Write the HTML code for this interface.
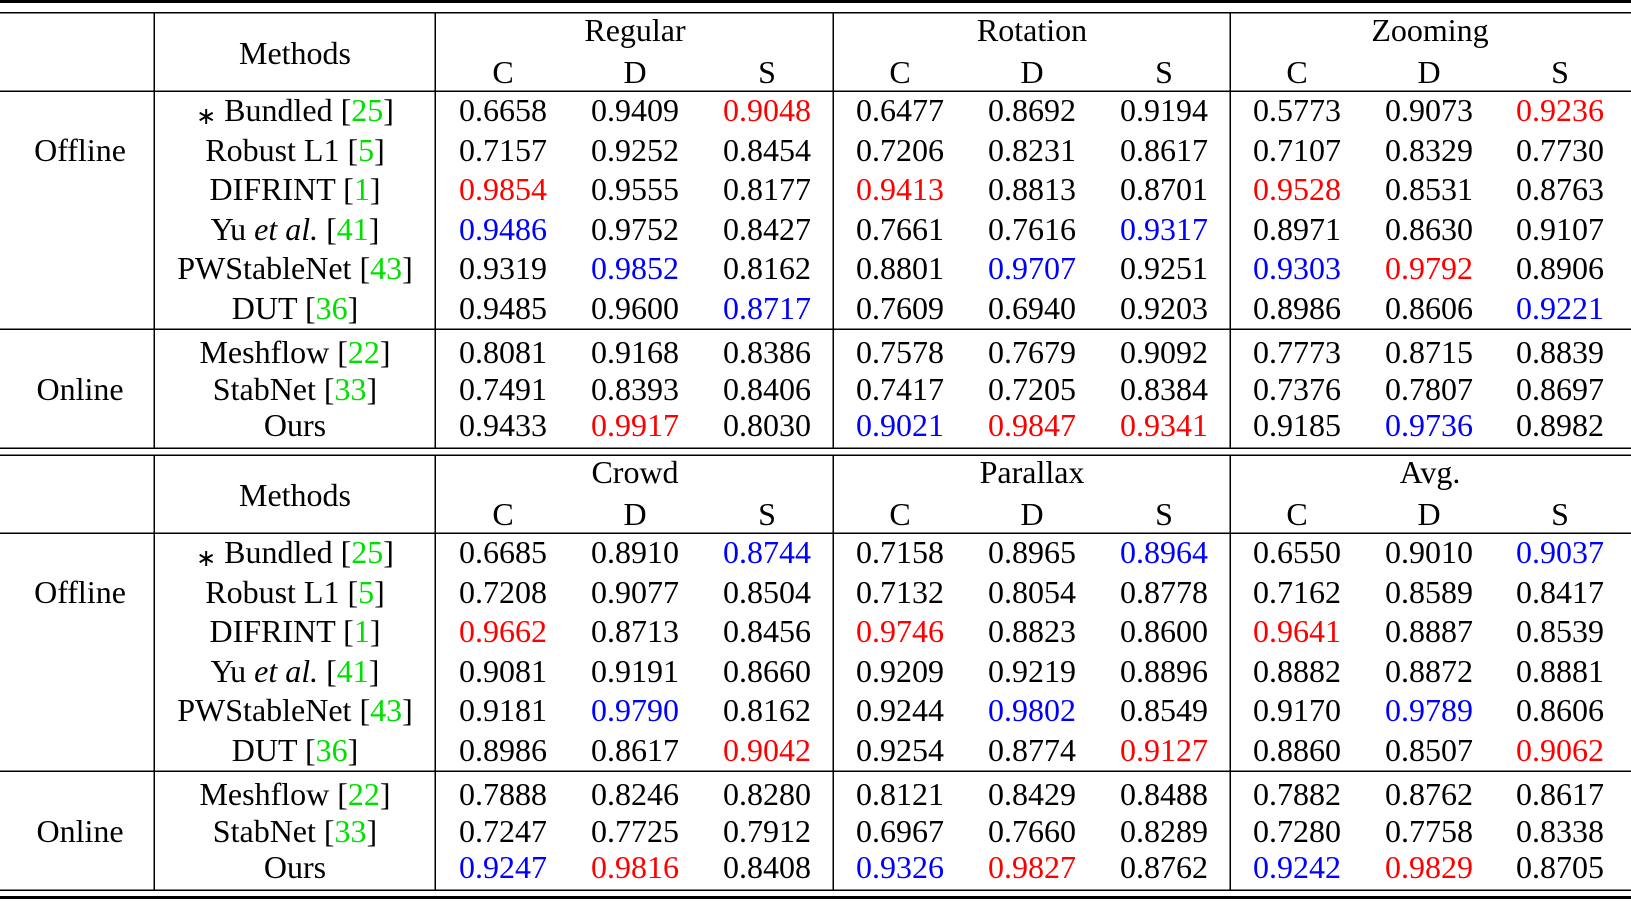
<!DOCTYPE html>
<html><head><meta charset="utf-8"><style>
html,body{margin:0;padding:0;background:#fff;}
svg{display:block;}
text{font-family:"Liberation Serif",serif;font-size:32px;fill:#000;text-anchor:middle;}
.g{fill:#00e000;} .r{fill:#f00;} .b{fill:#00f;}
.a{font-size:24px;font-family:"DejaVu Sans",sans-serif;}
</style></head><body>
<svg width="1631" height="901" viewBox="0 0 1631 901" xmlns="http://www.w3.org/2000/svg">
<rect x="0" y="0" width="1631" height="3" fill="#000"/>
<rect x="0" y="12" width="1631" height="1.5" fill="#000"/>
<rect x="0" y="90.5" width="1631" height="1.5" fill="#000"/>
<rect x="0" y="328.5" width="1631" height="1.5" fill="#000"/>
<rect x="0" y="447.5" width="1631" height="1.5" fill="#000"/>
<rect x="0" y="454.5" width="1631" height="1.5" fill="#000"/>
<rect x="0" y="532.5" width="1631" height="1.5" fill="#000"/>
<rect x="0" y="770.5" width="1631" height="1.5" fill="#000"/>
<rect x="0" y="889.5" width="1631" height="1.5" fill="#000"/>
<rect x="0" y="896" width="1631" height="3" fill="#000"/>
<g fill="#000">
<rect x="153.5" y="12" width="1.5" height="436"/><rect x="434.5" y="12" width="1.5" height="436"/>
<rect x="832.5" y="12" width="1.5" height="436"/><rect x="1229.5" y="12" width="1.5" height="436"/>
<rect x="153.5" y="455" width="1.5" height="435"/><rect x="434.5" y="455" width="1.5" height="435"/>
<rect x="832.5" y="455" width="1.5" height="435"/><rect x="1229.5" y="455" width="1.5" height="435"/>
</g>

<!-- Half A -->
<text x="295" y="64">Methods</text>
<text x="635" y="41">Regular</text><text x="1032" y="41">Rotation</text><text x="1430" y="41">Zooming</text>
<text x="503" y="83">C</text><text x="635" y="83">D</text><text x="767" y="83">S</text>
<text x="900" y="83">C</text><text x="1032" y="83">D</text><text x="1164" y="83">S</text>
<text x="1297" y="83">C</text><text x="1429" y="83">D</text><text x="1560" y="83">S</text>
<text x="80" y="161">Offline</text><text x="80" y="400">Online</text>

<text x="295" y="121"><tspan class="a" dy="3">∗</tspan><tspan dy="-3"> Bundled [</tspan><tspan class="g">25</tspan>]</text>
<text x="295" y="161">Robust L1 [<tspan class="g">5</tspan>]</text>
<text x="295" y="200">DIFRINT [<tspan class="g">1</tspan>]</text>
<text x="295" y="240">Yu <tspan font-style="italic">et al.</tspan> [<tspan class="g">41</tspan>]</text>
<text x="295" y="279">PWStableNet [<tspan class="g">43</tspan>]</text>
<text x="295" y="319">DUT [<tspan class="g">36</tspan>]</text>
<text x="295" y="363">Meshflow [<tspan class="g">22</tspan>]</text>
<text x="295" y="400">StabNet [<tspan class="g">33</tspan>]</text>
<text x="295" y="436">Ours</text>

<text x="503" y="121">0.6658</text><text x="635" y="121">0.9409</text><text x="767" y="121" class="r">0.9048</text><text x="900" y="121">0.6477</text><text x="1032" y="121">0.8692</text><text x="1164" y="121">0.9194</text><text x="1297" y="121">0.5773</text><text x="1429" y="121">0.9073</text><text x="1560" y="121" class="r">0.9236</text>
<text x="503" y="161">0.7157</text><text x="635" y="161">0.9252</text><text x="767" y="161">0.8454</text><text x="900" y="161">0.7206</text><text x="1032" y="161">0.8231</text><text x="1164" y="161">0.8617</text><text x="1297" y="161">0.7107</text><text x="1429" y="161">0.8329</text><text x="1560" y="161">0.7730</text>
<text x="503" y="200" class="r">0.9854</text><text x="635" y="200">0.9555</text><text x="767" y="200">0.8177</text><text x="900" y="200" class="r">0.9413</text><text x="1032" y="200">0.8813</text><text x="1164" y="200">0.8701</text><text x="1297" y="200" class="r">0.9528</text><text x="1429" y="200">0.8531</text><text x="1560" y="200">0.8763</text>
<text x="503" y="240" class="b">0.9486</text><text x="635" y="240">0.9752</text><text x="767" y="240">0.8427</text><text x="900" y="240">0.7661</text><text x="1032" y="240">0.7616</text><text x="1164" y="240" class="b">0.9317</text><text x="1297" y="240">0.8971</text><text x="1429" y="240">0.8630</text><text x="1560" y="240">0.9107</text>
<text x="503" y="279">0.9319</text><text x="635" y="279" class="b">0.9852</text><text x="767" y="279">0.8162</text><text x="900" y="279">0.8801</text><text x="1032" y="279" class="b">0.9707</text><text x="1164" y="279">0.9251</text><text x="1297" y="279" class="b">0.9303</text><text x="1429" y="279" class="r">0.9792</text><text x="1560" y="279">0.8906</text>
<text x="503" y="319">0.9485</text><text x="635" y="319">0.9600</text><text x="767" y="319" class="b">0.8717</text><text x="900" y="319">0.7609</text><text x="1032" y="319">0.6940</text><text x="1164" y="319">0.9203</text><text x="1297" y="319">0.8986</text><text x="1429" y="319">0.8606</text><text x="1560" y="319" class="b">0.9221</text>
<text x="503" y="363">0.8081</text><text x="635" y="363">0.9168</text><text x="767" y="363">0.8386</text><text x="900" y="363">0.7578</text><text x="1032" y="363">0.7679</text><text x="1164" y="363">0.9092</text><text x="1297" y="363">0.7773</text><text x="1429" y="363">0.8715</text><text x="1560" y="363">0.8839</text>
<text x="503" y="400">0.7491</text><text x="635" y="400">0.8393</text><text x="767" y="400">0.8406</text><text x="900" y="400">0.7417</text><text x="1032" y="400">0.7205</text><text x="1164" y="400">0.8384</text><text x="1297" y="400">0.7376</text><text x="1429" y="400">0.7807</text><text x="1560" y="400">0.8697</text>
<text x="503" y="436">0.9433</text><text x="635" y="436" class="r">0.9917</text><text x="767" y="436">0.8030</text><text x="900" y="436" class="b">0.9021</text><text x="1032" y="436" class="r">0.9847</text><text x="1164" y="436" class="r">0.9341</text><text x="1297" y="436">0.9185</text><text x="1429" y="436" class="b">0.9736</text><text x="1560" y="436">0.8982</text>

<!-- Half B -->
<text x="295" y="506">Methods</text>
<text x="635" y="483">Crowd</text><text x="1032" y="483">Parallax</text><text x="1430" y="483">Avg.</text>
<text x="503" y="525">C</text><text x="635" y="525">D</text><text x="767" y="525">S</text>
<text x="900" y="525">C</text><text x="1032" y="525">D</text><text x="1164" y="525">S</text>
<text x="1297" y="525">C</text><text x="1429" y="525">D</text><text x="1560" y="525">S</text>
<text x="80" y="603">Offline</text><text x="80" y="842">Online</text>

<text x="295" y="563"><tspan class="a" dy="3">∗</tspan><tspan dy="-3"> Bundled [</tspan><tspan class="g">25</tspan>]</text>
<text x="295" y="603">Robust L1 [<tspan class="g">5</tspan>]</text>
<text x="295" y="642">DIFRINT [<tspan class="g">1</tspan>]</text>
<text x="295" y="682">Yu <tspan font-style="italic">et al.</tspan> [<tspan class="g">41</tspan>]</text>
<text x="295" y="721">PWStableNet [<tspan class="g">43</tspan>]</text>
<text x="295" y="761">DUT [<tspan class="g">36</tspan>]</text>
<text x="295" y="805">Meshflow [<tspan class="g">22</tspan>]</text>
<text x="295" y="842">StabNet [<tspan class="g">33</tspan>]</text>
<text x="295" y="878">Ours</text>

<text x="503" y="563">0.6685</text><text x="635" y="563">0.8910</text><text x="767" y="563" class="b">0.8744</text><text x="900" y="563">0.7158</text><text x="1032" y="563">0.8965</text><text x="1164" y="563" class="b">0.8964</text><text x="1297" y="563">0.6550</text><text x="1429" y="563">0.9010</text><text x="1560" y="563" class="b">0.9037</text>
<text x="503" y="603">0.7208</text><text x="635" y="603">0.9077</text><text x="767" y="603">0.8504</text><text x="900" y="603">0.7132</text><text x="1032" y="603">0.8054</text><text x="1164" y="603">0.8778</text><text x="1297" y="603">0.7162</text><text x="1429" y="603">0.8589</text><text x="1560" y="603">0.8417</text>
<text x="503" y="642" class="r">0.9662</text><text x="635" y="642">0.8713</text><text x="767" y="642">0.8456</text><text x="900" y="642" class="r">0.9746</text><text x="1032" y="642">0.8823</text><text x="1164" y="642">0.8600</text><text x="1297" y="642" class="r">0.9641</text><text x="1429" y="642">0.8887</text><text x="1560" y="642">0.8539</text>
<text x="503" y="682">0.9081</text><text x="635" y="682">0.9191</text><text x="767" y="682">0.8660</text><text x="900" y="682">0.9209</text><text x="1032" y="682">0.9219</text><text x="1164" y="682">0.8896</text><text x="1297" y="682">0.8882</text><text x="1429" y="682">0.8872</text><text x="1560" y="682">0.8881</text>
<text x="503" y="721">0.9181</text><text x="635" y="721" class="b">0.9790</text><text x="767" y="721">0.8162</text><text x="900" y="721">0.9244</text><text x="1032" y="721" class="b">0.9802</text><text x="1164" y="721">0.8549</text><text x="1297" y="721">0.9170</text><text x="1429" y="721" class="b">0.9789</text><text x="1560" y="721">0.8606</text>
<text x="503" y="761">0.8986</text><text x="635" y="761">0.8617</text><text x="767" y="761" class="r">0.9042</text><text x="900" y="761">0.9254</text><text x="1032" y="761">0.8774</text><text x="1164" y="761" class="r">0.9127</text><text x="1297" y="761">0.8860</text><text x="1429" y="761">0.8507</text><text x="1560" y="761" class="r">0.9062</text>
<text x="503" y="805">0.7888</text><text x="635" y="805">0.8246</text><text x="767" y="805">0.8280</text><text x="900" y="805">0.8121</text><text x="1032" y="805">0.8429</text><text x="1164" y="805">0.8488</text><text x="1297" y="805">0.7882</text><text x="1429" y="805">0.8762</text><text x="1560" y="805">0.8617</text>
<text x="503" y="842">0.7247</text><text x="635" y="842">0.7725</text><text x="767" y="842">0.7912</text><text x="900" y="842">0.6967</text><text x="1032" y="842">0.7660</text><text x="1164" y="842">0.8289</text><text x="1297" y="842">0.7280</text><text x="1429" y="842">0.7758</text><text x="1560" y="842">0.8338</text>
<text x="503" y="878" class="b">0.9247</text><text x="635" y="878" class="r">0.9816</text><text x="767" y="878">0.8408</text><text x="900" y="878" class="b">0.9326</text><text x="1032" y="878" class="r">0.9827</text><text x="1164" y="878">0.8762</text><text x="1297" y="878" class="b">0.9242</text><text x="1429" y="878" class="r">0.9829</text><text x="1560" y="878">0.8705</text>
</svg>
</body></html>
